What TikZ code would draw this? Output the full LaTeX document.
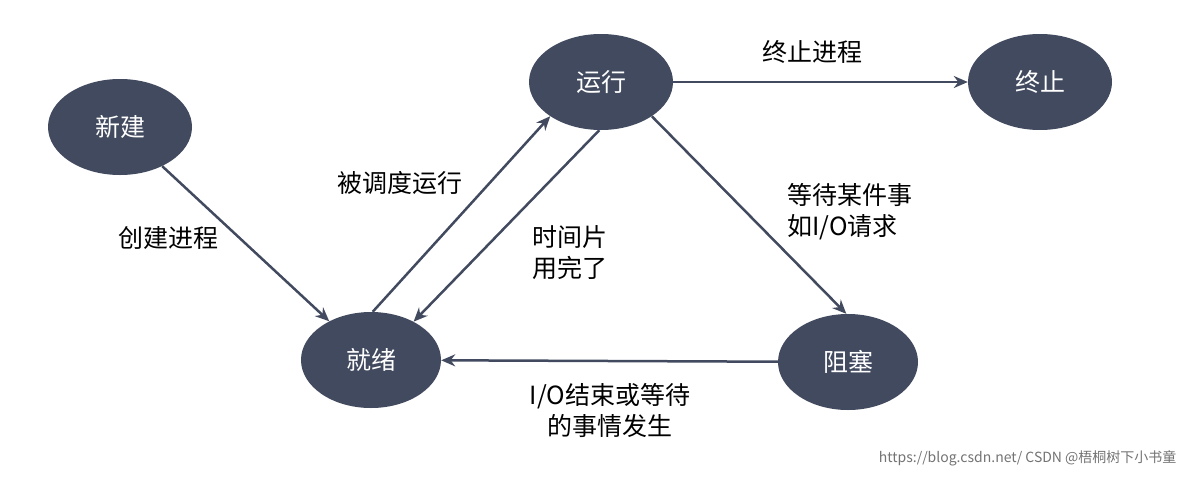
\documentclass[tikz,border=0pt]{standalone}
\usepackage{fontspec}
\setmainfont{Noto Sans CJK SC}
\usetikzlibrary{arrows.meta,shapes.geometric}
\definecolor{st}{HTML}{414A5E}
\begin{document}
\begin{tikzpicture}[x=1pt,y=-1pt,
 st/.style={ellipse,fill=st,minimum width=144pt,minimum height=96pt,inner sep=0pt,text=white,font=\fontsize{25}{28}\selectfont},
 ar/.style={draw=st,line width=2.5pt,-{Stealth[length=14pt,width=12pt]}},
 lb/.style={font=\fontsize{25}{31}\selectfont,align=center,text=black}]
\useasboundingbox (0,0) rectangle (1196,477);
\node[st] (new) at (120,127) {新建};
\node[st] (run) at (601,82) {运行};
\node[st] (end) at (1040,82) {终止};
\node[st,minimum width=140pt] (rdy) at (371,360) {就绪};
\node[st,minimum width=140pt] (blk) at (848,362) {阻塞};
\draw[ar] (new) -- (rdy);
\draw[ar] (rdy.88) -- (run.214);
\draw[ar] (run.268) -- (rdy.42);
\draw[ar] (run) -- (end);
\draw[ar] (run.-34) -- (blk.92);
\draw[ar] (blk) -- (rdy);
\node[lb] (l1) at (168,238) {创建进程};
\node[lb] (l2) at (400,183) {被调度运行};
\node[lb,align=left] (l3) at (570,253) {时间片\\用完了};
\node[lb] (l4) at (812,52) {终止进程};
\node[lb,align=left] (l5) at (850,212) {等待某件事\\如I/O请求};
\node[lb] (l6) at (610,410) {I/O结束或等待\\的事情发生};
\node[font=\fontsize{14}{16}\selectfont,text=black!55,anchor=east] (wm) at (1180,458) {https://blog.csdn.net/ CSDN @梧桐树下小书童};
\end{tikzpicture}
\end{document}
